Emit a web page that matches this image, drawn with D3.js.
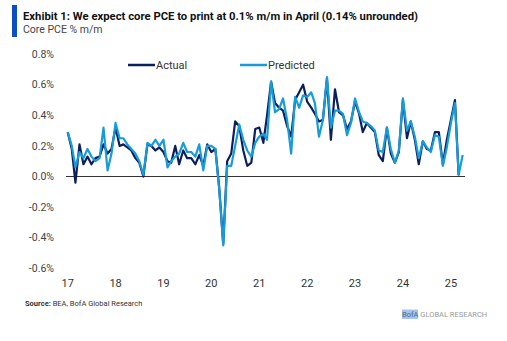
<!DOCTYPE html>
<html>
<head>
<meta charset="utf-8">
<title>Core PCE m/m</title>
<script src="https://d3js.org/d3.v7.min.js"></script>
<style>
  body { margin: 0; background: #fff; }
  svg { display: block; font-family: "Liberation Sans Narrow", "Roboto", "Liberation Sans", sans-serif; }
</style>
</head>
<body>
<div id="chart"></div>
<script>
// core PCE % m/m, monthly from Jan 2017
var startMonth = new Date(2017, 0, 1);

var actual = [
  0.29, 0.18, -0.04, 0.21, 0.08, 0.13, 0.08, 0.12, 0.13, 0.21, 0.15, 0.18,
  0.32, 0.20, 0.21, 0.19, 0.17, 0.12, 0.09, 0.00, 0.21, 0.20, 0.17, 0.19,
  0.16, 0.10, 0.09, 0.20, 0.08, 0.17, 0.12, 0.12, 0.08, 0.14, 0.07, 0.21,
  0.16, 0.18, -0.07, -0.44, 0.10, 0.15, 0.36, 0.33, 0.17, 0.07, 0.09, 0.31,
  0.32, 0.22, 0.40, 0.62, 0.48, 0.45, 0.43, 0.33, 0.26, 0.50, 0.55, 0.60,
  0.49, 0.45, 0.41, 0.36, 0.37, 0.64, 0.24, 0.57, 0.42, 0.40, 0.31, 0.36,
  0.49, 0.41, 0.29, 0.35, 0.32, 0.29, 0.14, 0.10, 0.32, 0.15, 0.09, 0.16,
  0.50, 0.25, 0.36, 0.24, 0.08, 0.23, 0.18, 0.17, 0.29, 0.29, 0.08, 0.24,
  0.37, 0.50, 0.01
];

var predicted = [
  0.29, 0.20, 0.06, 0.16, 0.12, 0.18, 0.13, 0.10, 0.12, 0.32, 0.04, 0.15,
  0.35, 0.25, 0.25, 0.21, 0.18, 0.15, 0.10, 0.01, 0.22, 0.20, 0.24, 0.20,
  0.24, 0.06, 0.10, 0.13, 0.15, 0.22, 0.16, 0.16, 0.13, 0.21, 0.04, 0.20,
  0.20, 0.18, -0.08, -0.45, 0.07, 0.07, 0.20, 0.34, 0.24, 0.17, 0.13, 0.22,
  0.26, 0.28, 0.24, 0.62, 0.42, 0.44, 0.51, 0.37, 0.15, 0.52, 0.45, 0.53,
  0.52, 0.55, 0.48, 0.26, 0.37, 0.65, 0.32, 0.43, 0.43, 0.41, 0.27, 0.35,
  0.51, 0.42, 0.36, 0.35, 0.33, 0.30, 0.17, 0.16, 0.32, 0.18, 0.09, 0.17,
  0.51, 0.30, 0.36, 0.26, 0.12, 0.23, 0.19, 0.16, 0.27, 0.26, 0.07, 0.19,
  0.35, 0.48, 0.01, 0.14
];

var yTicks = [-0.6, -0.4, -0.2, 0, 0.2, 0.4, 0.6, 0.8];
var seriesNames = ["Actual", "Predicted"];
var seriesColors = ["#0b1f5e", "#169bdb"];

var width = 507, height = 341;

var svg = d3.select("#chart").append("svg")
    .attr("width", width)
    .attr("height", height);

// title block
svg.append("rect")
    .attr("x", 12).attr("y", 5)
    .attr("width", 5).attr("height", 32)
    .attr("fill", "#0a4fc4");

svg.append("text")
    .attr("x", 23).attr("y", 20)
    .attr("font-size", 11.5)
    .attr("font-weight", "bold")
    .attr("fill", "#111")
    .attr("textLength", 395)
    .attr("lengthAdjust", "spacingAndGlyphs")
    .text("Exhibit 1:  We expect core PCE to print at 0.1% m/m in April (0.14% unrounded)");

svg.append("text")
    .attr("x", 23).attr("y", 33)
    .attr("font-size", 10.5)
    .attr("fill", "#444")
    .text("Core PCE % m/m");

function monthsFrom(n) {
  return d3.range(n).map(function(i) { return d3.timeMonth.offset(startMonth, i); });
}

var x = d3.scaleTime()
    .domain([startMonth, new Date(2025, 3, 1)])
    .range([67.7, 462.7]);

var y = d3.scaleLinear()
    .domain([-0.6, 0.8])
    .range([268.3, 54.1]);

// y labels
svg.append("g").selectAll("text")
    .data(yTicks)
    .enter().append("text")
    .attr("x", 54)
    .attr("y", function(d) { return y(d); })
    .attr("dy", "0.35em")
    .attr("text-anchor", "end")
    .attr("font-size", 10.5)
    .attr("fill", "#444")
    .text(function(d) { return d.toFixed(1) + "%"; });

// x labels
var years = d3.timeYear.range(new Date(2017, 0, 1), new Date(2025, 1, 1));
svg.append("g").selectAll("text")
    .data(years)
    .enter().append("text")
    .attr("x", function(d) { return x(d); })
    .attr("y", 287)
    .attr("text-anchor", "middle")
    .attr("font-size", 11)
    .attr("fill", "#333")
    .text(d3.timeFormat("%y"));

// zero line
svg.append("line")
    .attr("x1", 66).attr("x2", 465)
    .attr("y1", y(0)).attr("y2", y(0))
    .attr("stroke", "#333")
    .attr("stroke-width", 1);

var line = d3.line()
    .x(function(d) { return x(d[0]); })
    .y(function(d) { return y(d[1]); });

[actual, predicted].forEach(function(vals, k) {
  var pts = d3.zip(monthsFrom(vals.length), vals);
  svg.append("path")
      .datum(pts)
      .attr("fill", "none")
      .attr("stroke", seriesColors[k])
      .attr("stroke-width", 2.2)
      .attr("stroke-linejoin", "round")
      .attr("d", line);
});

// legend
var legendX = [128, 240];
var legend = svg.append("g").selectAll("g")
    .data(seriesNames)
    .enter().append("g")
    .attr("transform", function(d, i) { return "translate(" + legendX[i] + ",65)"; });
legend.append("line")
    .attr("x1", 0).attr("x2", 27)
    .attr("stroke", function(d, i) { return seriesColors[i]; })
    .attr("stroke-width", 2.5);
legend.append("text")
    .attr("x", 28)
    .attr("dy", "0.35em")
    .attr("font-size", 11)
    .attr("fill", "#333")
    .text(function(d) { return d; });

// footer
var src = svg.append("text")
    .attr("x", 25).attr("y", 306)
    .attr("font-size", 7.5)
    .attr("fill", "#333");
src.append("tspan").attr("font-weight", "bold").text("Source: ");
src.append("tspan").text("BEA, BofA Global Research");

svg.append("rect")
    .attr("x", 402).attr("y", 309.5)
    .attr("width", 16).attr("height", 9.5)
    .attr("fill", "#a8c4e4");
var brand = svg.append("text")
    .attr("x", 402).attr("y", 317)
    .attr("font-size", 7.5)
    .attr("fill", "#999");
brand.append("tspan").attr("fill", "#4a6a93").text("BofA");
brand.append("tspan").text(" GLOBAL RESEARCH");
</script>
</body>
</html>
